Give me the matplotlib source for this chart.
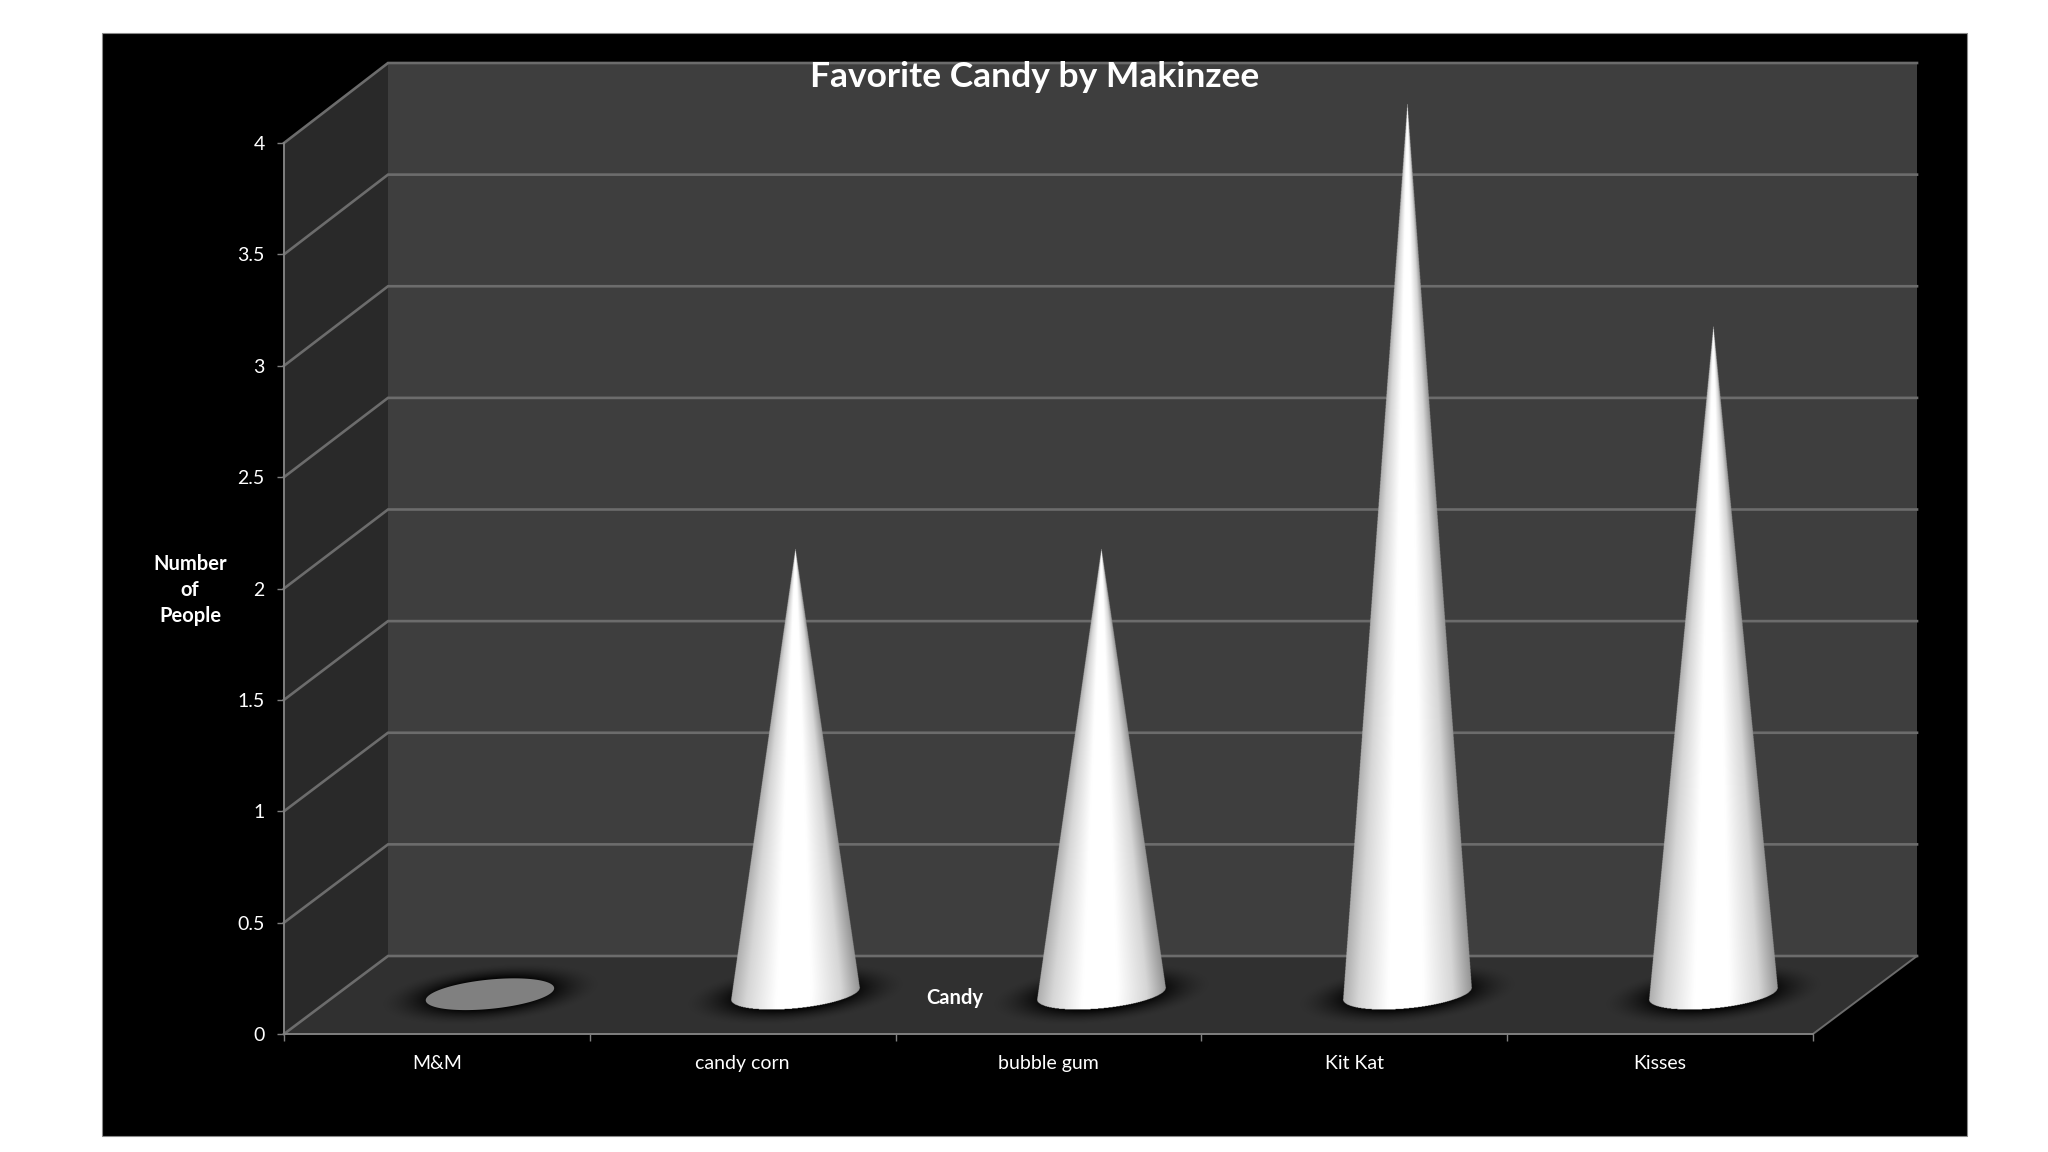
import numpy as np
import matplotlib
matplotlib.use("Agg")
import matplotlib.pyplot as plt
from matplotlib.patches import Polygon, Rectangle
from matplotlib.path import Path

plt.rcParams['font.family'] = ['Lato', 'DejaVu Sans']

candies = ["M&M", "candy corn", "bubble gum", "Kit Kat", "Kisses"]
people = [0, 2, 2, 4, 3]
y_ticks = [0, 0.5, 1, 1.5, 2, 2.5, 3, 3.5, 4]
y_tick_labels = ["0", "0.5", "1", "1.5", "2", "2.5", "3", "3.5", "4"]
title = "Favorite Candy by Makinzee"
x_title = "Candy"
y_title = "Number\nof\nPeople"

W, H = 2048, 1152
fig = plt.figure(figsize=(W / 100, H / 100), dpi=100, facecolor="white")
fig.add_artist(Rectangle((102 / W, 1 - 1136 / H), (1967 - 102) / W, (1136 - 33) / H,
                         transform=fig.transFigure, facecolor="black",
                         edgecolor="#8a8a8a", linewidth=0.8, zorder=-1))
ax = fig.add_axes([284 / W, 1 - 1034 / H, 1529 / W, 891 / H])
ax.patch.set_visible(False)

x0, x1 = -0.5, len(candies) - 0.5
y0, y1 = y_ticks[0], y_ticks[-1]
DX, DY = 104 / (1529 / 5), 78 / (891 / 4)   # depth of the 3-D box in data units
BACK = 893 / 891                             # back wall is very slightly taller
GRID = "#6c6c6c"


def back_y(v):
    return v * BACK + DY


ax.add_patch(Polygon([(x0 + DX, back_y(y0)), (x1 + DX, back_y(y0)), (x1 + DX, back_y(y1)), (x0 + DX, back_y(y1))],
                     facecolor="#3e3e3e", edgecolor="none", clip_on=False, zorder=1))
ax.add_patch(Polygon([(x0, y0), (x0 + DX, back_y(y0)), (x0 + DX, back_y(y1)), (x0, y1)],
                     facecolor="#292929", edgecolor="none", clip_on=False, zorder=1))
ax.add_patch(Polygon([(x0, y0), (x1, y0), (x1 + DX, back_y(y0)), (x0 + DX, back_y(y0))],
                     facecolor="#303030", edgecolor="none", clip_on=False, zorder=1))
for v in y_ticks:
    ax.plot([x0, x0 + DX, x1 + DX], [v, back_y(v), back_y(v)], color=GRID, lw=1.9,
            clip_on=False, zorder=2, solid_joinstyle="miter")
ax.plot([x1, x1 + DX], [y0, back_y(y0)], color=GRID, lw=1.4, clip_on=False, zorder=2)

# base ellipse vectors, data units
AX_, AY_ = 0.21, 0.027
BX_, BY_ = 0.0, 0.066
DEPTH = 0.51


def ellipse(cx, cy, t):
    return cx + AX_ * np.cos(t) + BX_ * np.sin(t), cy + AY_ * np.cos(t) + BY_ * np.sin(t)


for i, v in enumerate(people):
    cx = i + DEPTH * DX
    cy = DEPTH * DY

    # soft dark halo on the floor
    gx = np.linspace(cx - 0.40, cx + 0.40, 240)
    gy = np.linspace(cy - 0.16, cy + 0.16, 120)
    X, Y = np.meshgrid(gx, gy)
    u = (X - cx) / AX_
    w = (Y - cy - u * AY_) / BY_
    r = np.sqrt(u ** 2 + (w / 1.15) ** 2)
    alpha = np.clip((1.7 - r) / 0.8, 0, 1) ** 1.6 * 0.9
    rgba = np.zeros(X.shape + (4,))
    rgba[..., 3] = alpha
    im = ax.imshow(rgba, extent=(gx[0], gx[-1], gy[0], gy[-1]), origin="lower",
                   aspect="auto", zorder=3, interpolation="bilinear")
    im.set_clip_on(False)

    if v == 0:
        tt = np.linspace(0, 2 * np.pi, 120)
        ex, ey = ellipse(cx, cy, tt)
        ax.add_patch(Polygon(np.column_stack([ex, ey]), facecolor="#808080",
                             edgecolor="none", clip_on=False, zorder=4))
        continue

    tip_x, tip_y = cx, cy + v
    tt = np.linspace(np.pi, 2 * np.pi, 80)
    ex, ey = ellipse(cx, cy, tt)
    poly = np.vstack([np.column_stack([ex, ey]), [[tip_x, tip_y]]])
    xl, yl = ex[0], ey[0]
    xr, yr = ex[-1], ey[-1]
    gx = np.linspace(xl - 0.01, xr + 0.01, 520)
    gy = np.linspace(ey.min() - 0.01, tip_y, int(v * 222.75 * 2))
    X, Y = np.meshgrid(gx, gy)
    mask = Path(poly).contains_points(np.column_stack([X.ravel(), Y.ravel()])).reshape(X.shape)
    left = xl + (tip_x - xl) * np.clip((Y - yl) / (tip_y - yl), 0, 1)
    right = xr + (tip_x - xr) * np.clip((Y - yr) / (tip_y - yr), 0, 1)
    t = np.clip((X - left) / (right - left), 0, 1)
    b = np.interp(t, [0, 0.12, 0.35, 0.62, 0.85, 1], [0.68, 0.84, 1, 1, 0.84, 0.58])
    rgba = np.dstack([b, b, b, mask.astype(float)])
    im = ax.imshow(rgba, extent=(gx[0], gx[-1], gy[0], gy[-1]), origin="lower",
                   aspect="auto", zorder=5, interpolation="antialiased")
    im.set_clip_on(False)

ax.set_xlim(x0, x1)
ax.set_ylim(y0, y1)
for s in ("top", "right"):
    ax.spines[s].set_visible(False)
for s in ("left", "bottom"):
    ax.spines[s].set_color("#808080")
    ax.spines[s].set_linewidth(1.4)
    ax.spines[s].set_zorder(6)

ax.set_yticks(y_ticks)
ax.set_yticklabels(y_tick_labels)
ax.set_xticks(np.arange(x0, x1 + 1))
ax.set_xticklabels([])
ax.set_xticks(np.arange(len(candies)), minor=True)
ax.set_xticklabels(candies, minor=True)
ax.tick_params(axis="y", labelcolor="white", length=5, width=1, pad=9, labelsize=14, color="#808080")
ax.tick_params(axis="x", which="major", length=5, width=1, color="#808080")
ax.tick_params(axis="x", which="minor", length=0, pad=15, labelsize=14, labelcolor="white")

fig.text(1035 / W, 1 - 77 / H, title, color="white", fontsize=25.5, fontweight="bold",
         ha="center", va="center")
fig.text(955 / W, 1 - 998 / H, x_title, color="white", fontsize=14.5, fontweight="bold",
         ha="center", va="center", zorder=10)
fig.text(190 / W, 1 - 590 / H, y_title, color="white", fontsize=14.5, fontweight="bold",
         ha="center", va="center", linespacing=1.38, multialignment="center")

fig.savefig("out.png", dpi=100, facecolor="white")
